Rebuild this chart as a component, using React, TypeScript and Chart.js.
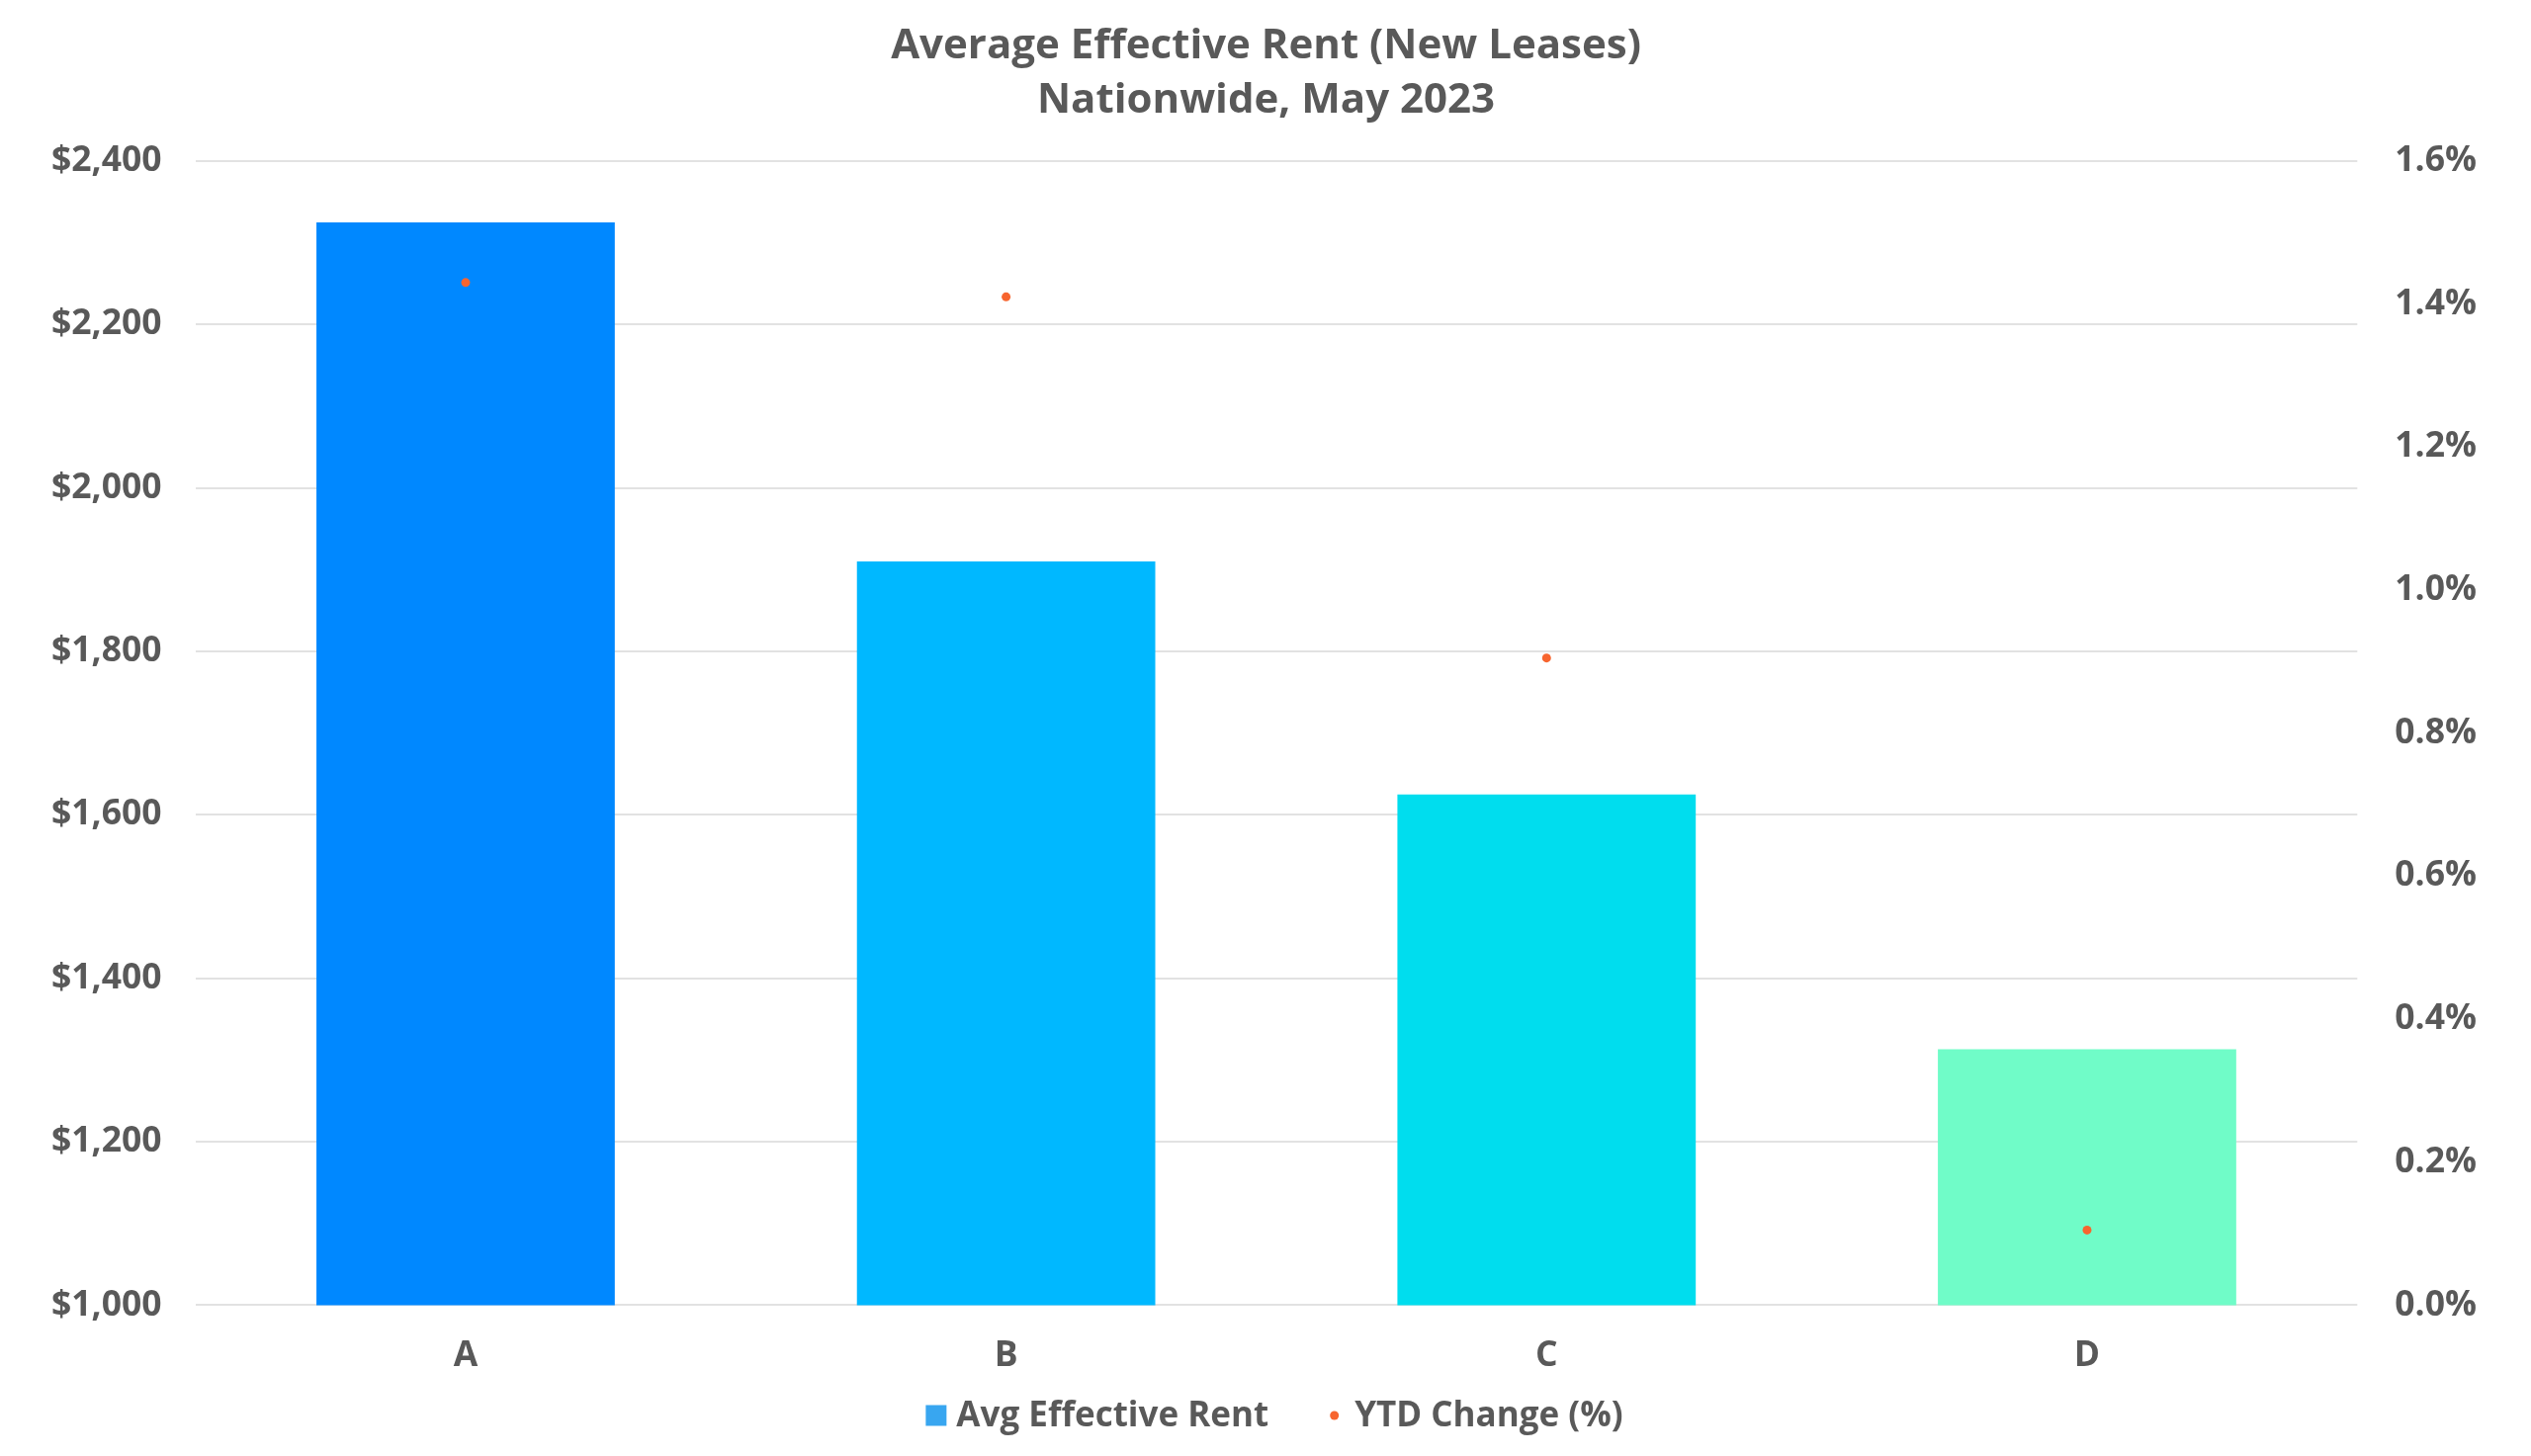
import React, { useEffect, useRef } from 'react';
import { Chart, registerables } from 'chart.js';
Chart.register(...registerables);

const categories = ['A', 'B', 'C', 'D'];
const avgRent = [2325, 1910, 1625, 1313];
const ytdChange = [1.43, 1.41, 0.905, 0.105];
const barColors = ['#0088FF', '#00B8FF', '#00DDEE', '#70FCC8'];
const seriesNames = ['Avg Effective Rent', 'YTD Change (%)'];
const titleLines = ['Average Effective Rent (New Leases)', 'Nationwide, May 2023'];
const rentMin = 1000;
const rentMax = 2400;
const rentStep = 200;
const pctMin = 0;
const pctMax = 1.6;
const pctStep = 0.2;

const TEXT = '#595959';
const FONT = '"Open Sans", sans-serif';
const POINT_COLOR = '#F7652F';
const LEGEND_SWATCH = '#38A6F0';
const TICK_SIZE = 35.5;

const legendPlugin = {
  id: 'customLegend',
  afterDraw(chart: any) {
    const ctx = chart.ctx;
    ctx.save();
    ctx.font = `bold 35px ${FONT}`;
    ctx.fillStyle = TEXT;
    ctx.textBaseline = 'middle';
    ctx.textAlign = 'left';
    const w1 = ctx.measureText(seriesNames[0]).width;
    const w2 = ctx.measureText(seriesNames[1]).width;
    const sw = 21, g1 = 10, sp = 62, pd = 9, g2 = 16;
    const total = sw + g1 + w1 + sp + pd + g2 + w2;
    const ca = chart.chartArea;
    let x = (ca.left + ca.right) / 2 - total / 2 - 2;
    const y = chart.height - 41;
    ctx.fillStyle = LEGEND_SWATCH;
    ctx.fillRect(x, y - sw / 2, sw, sw);
    x += sw + g1;
    ctx.fillStyle = TEXT;
    ctx.fillText(seriesNames[0], x, y + 1);
    x += w1 + sp;
    ctx.fillStyle = POINT_COLOR;
    ctx.beginPath();
    ctx.arc(x + pd / 2, y, pd / 2, 0, Math.PI * 2);
    ctx.fill();
    x += pd + g2;
    ctx.fillStyle = TEXT;
    ctx.fillText(seriesNames[1], x, y + 1);
    ctx.restore();
  },
};

export default function App() {
  const ref = useRef<HTMLCanvasElement>(null);
  useEffect(() => {
    let chart: Chart | null = null;
    let cancelled = false;
    const build = () => {
      if (cancelled || !ref.current) return;
      chart = new Chart(ref.current, {
        type: 'bar',
        data: {
          labels: categories,
          datasets: [
            {
              type: 'line',
              label: seriesNames[1],
              data: ytdChange,
              yAxisID: 'y1',
              showLine: false,
              pointRadius: 4.5,
              pointBackgroundColor: POINT_COLOR,
              pointBorderWidth: 0,
              borderColor: POINT_COLOR,
              order: 0,
            } as any,
            {
              type: 'bar',
              label: seriesNames[0],
              data: avgRent,
              yAxisID: 'y',
              backgroundColor: barColors,
              borderWidth: 0,
              barPercentage: 0.552,
              categoryPercentage: 1,
              order: 1,
            },
          ],
        },
        plugins: [legendPlugin],
        options: {
          animation: false,
          responsive: true,
          maintainAspectRatio: false,
          layout: { padding: { left: 18, right: 17, top: 0, bottom: 50 } },
          plugins: {
            legend: { display: false },
            tooltip: { enabled: false },
            title: {
              display: true,
              text: titleLines,
              color: TEXT,
              font: { family: FONT, size: 42, weight: 'bold', lineHeight: 1.32 },
              padding: { top: 19, bottom: 33 },
            },
          },
          scales: {
            x: {
              grid: { display: false, drawTicks: false },
              border: { display: false },
              ticks: { color: TEXT, padding: 30, font: { family: FONT, size: TICK_SIZE, weight: 'bold' } },
            },
            y: {
              position: 'left',
              min: rentMin,
              max: rentMax,
              grid: { color: '#E2E2E2', lineWidth: 2, drawTicks: false },
              border: { display: false },
              ticks: {
                stepSize: rentStep,
                padding: 34,
                color: TEXT,
                font: { family: FONT, size: TICK_SIZE, weight: 'bold' },
                callback: (v: any) => '$' + Number(v).toLocaleString('en-US'),
              },
            },
            y1: {
              position: 'right',
              min: pctMin,
              max: pctMax,
              grid: { display: false, drawTicks: false },
              border: { display: false },
              ticks: {
                stepSize: pctStep,
                padding: 38,
                color: TEXT,
                font: { family: FONT, size: TICK_SIZE, weight: 'bold' },
                callback: (v: any) => Number(v).toFixed(1) + '%',
              },
            },
          },
        },
      });
    };
    const fonts: any = (document as any).fonts;
    if (fonts && fonts.load) {
      Promise.all([
        fonts.load(`bold 35px "Open Sans"`),
        fonts.load(`bold 42px "Open Sans"`),
      ]).then(build, build);
    } else {
      build();
    }
    return () => {
      cancelled = true;
      if (chart) chart.destroy();
    };
  }, []);
  return (
    <div style={{ position: 'absolute', left: 0, top: 0, width: 2560, height: 1473, background: '#fff' }}>
      <canvas ref={ref} />
    </div>
  );
}
